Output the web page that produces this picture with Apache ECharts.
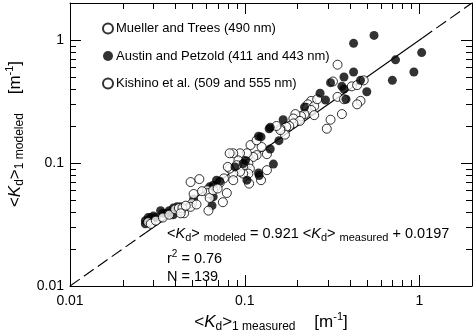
<!DOCTYPE html>
<html><head><meta charset="utf-8">
<script src="https://cdn.jsdelivr.net/npm/echarts@6/dist/echarts.min.js"></script>
<style>html,body{margin:0;padding:0;background:#fff}#c{width:474px;height:336px}</style>
</head><body><div id="c"></div><script>
const axisMin = 0.01, axisMax = 2;
const majorTicks = [0.01, 0.1, 1];
const minorTicks = [0.02,0.03,0.04,0.05,0.06,0.07,0.08,0.09,0.2,0.3,0.4,0.5,0.6,0.7,0.8,0.9];
const tickLabels = ['0.01', '0.1', '1'];
const legendNames = ['Mueller and Trees (490 nm)', 'Austin and Petzold (411 and 443 nm)', 'Kishino et al. (509 and 555 nm)'];

const muellerPts = [
 [0.34,0.63],[0.32,0.46],[0.41,0.42],[0.44,0.43],[0.48,0.47],[0.34,0.345],[0.37,0.33],[0.46,0.32],[0.44,0.30],[0.36,0.25],[0.31,0.225],[0.295,0.19],
 [0.24,0.32],[0.23,0.30],[0.25,0.29],[0.226,0.28],[0.24,0.27],[0.22,0.25],[0.25,0.245],[0.21,0.24],[0.195,0.25],[0.19,0.23],[0.207,0.22],[0.19,0.21],[0.18,0.20],[0.173,0.197],[0.16,0.19],[0.17,0.17],[0.16,0.185],
 [0.125,0.135],[0.108,0.14],[0.134,0.118],[0.117,0.116],[0.112,0.112],[0.103,0.12],[0.094,0.12],[0.086,0.12],[0.082,0.12],[0.105,0.099],[0.1,0.096],[0.107,0.09],[0.098,0.094],[0.105,0.082],[0.098,0.082],[0.094,0.085],[0.106,0.068],[0.124,0.0725],[0.134,0.0875],[0.092,0.105],[0.09,0.096],[0.086,0.082],[0.082,0.09],[0.08,0.093],[0.076,0.075],[0.072,0.069],[0.086,0.0725],[0.079,0.057],[0.075,0.048],[0.068,0.064],
 [0.117,0.153],[0.152,0.2],[0.26,0.33]
];
const austinPts = [
 [0.55,1.09],[0.42,0.94],[1.03,0.79],[0.73,0.69],[0.93,0.55],[0.70,0.47],[0.42,0.55],[0.37,0.50],[0.46,0.47],[0.50,0.38],
 [0.31,0.45],[0.36,0.42],[0.37,0.40],[0.27,0.37],[0.29,0.325],[0.38,0.33],[0.22,0.285],
 [0.166,0.225],[0.14,0.195],[0.138,0.19],[0.12,0.165],[0.124,0.163],[0.157,0.152],[0.14,0.13],[0.146,0.098],[0.12,0.083],[0.121,0.079],[0.103,0.0725],[0.098,0.099],[0.101,0.105],[0.088,0.093],
 [0.069,0.0725],[0.072,0.071],[0.063,0.064],[0.066,0.066],[0.065,0.045],[0.066,0.053],[0.051,0.051],
 [0.043,0.044],[0.041,0.044],[0.039,0.043],[0.037,0.041],[0.036,0.039],[0.039,0.038],[0.033,0.041],[0.034,0.039],[0.030,0.037],[0.031,0.036],[0.029,0.036],[0.028,0.036],[0.027,0.032],[0.027,0.034]
];
const kishinoPts = [
 [0.061,0.06],[0.062,0.057],[0.063,0.052],[0.062,0.041],[0.049,0.07],[0.055,0.074],[0.051,0.056],[0.05,0.047],[0.049,0.044],[0.045,0.039],[0.043,0.041],[0.066,0.06],[0.07,0.062],[0.057,0.059],[0.053,0.046],
 [0.028,0.033],[0.029,0.032],[0.031,0.034],[0.034,0.036],[0.037,0.038],[0.04,0.042],[0.042,0.043],[0.044,0.043],[0.043,0.039],[0.046,0.045]
];
const oneToOneLow = [[0.01,0.01],[0.027,0.027]];
const oneToOneMid = [[0.027,0.027],[1.04,1.04]];
const oneToOneHigh = [[1.04,1.04],[2,2]];

const FONT = '"Liberation Sans", Arial, Helvetica, sans-serif';
const MAJOR_LEN = 11, MINOR_LEN = 6;

function makeAxis(position, withLabel) {
  return {
    type: 'log', logBase: 10, min: axisMin, max: axisMax, position: position, gridIndex: 0,
    axisLine: { show: true, onZero: false, lineStyle: { color: '#000', width: 1 } },
    axisTick: { show: false },
    axisLabel: withLabel ? {
      show: true, customValues: majorTicks, color: '#000', fontSize: 14, fontFamily: FONT,
      margin: position === 'bottom' ? 8 : 6,
      formatter: function (v) { const i = majorTicks.findIndex(t => Math.abs(Math.log10(t) - Math.log10(v)) < 1e-6); return i >= 0 ? tickLabels[i] : ''; }
    } : { show: false },
    splitLine: { show: false }
  };
}

// Tick marks as 1px filled rects, all corners taken from the axes' own scale via api.coord.
function tickRenderer(len) {
  return function (params, api) {
    const p = api.coord([api.value(0), api.value(1)]);
    const lo = api.coord([axisMin, axisMin]);
    const hi = api.coord([axisMax, axisMax]);
    const px = Math.round(p[0]), py = Math.round(p[1]);
    const xL = Math.round(lo[0]), yB = Math.round(lo[1]), xR = Math.round(hi[0]), yT = Math.round(hi[1]);
    const f = { fill: '#000' };
    return {
      type: 'group',
      children: [
        { type: 'rect', shape: { x: px, y: yB - len, width: 1, height: len }, style: f },
        { type: 'rect', shape: { x: px, y: yT, width: 1, height: len }, style: f },
        { type: 'rect', shape: { x: xL, y: py, width: len, height: 1 }, style: f },
        { type: 'rect', shape: { x: xR - len, y: py, width: len, height: 1 }, style: f }
      ]
    };
  };
}

function richSet(base, sub, sup, lh) {
  return {
    t: { fontSize: base, fontFamily: FONT, lineHeight: lh, fill: '#000' },
    i: { fontSize: base, fontFamily: FONT, fontStyle: 'italic', lineHeight: lh, fill: '#000' },
    s: { fontSize: sub, fontFamily: FONT, lineHeight: sub, verticalAlign: 'bottom', fill: '#000' },
    p: { fontSize: sup, fontFamily: FONT, lineHeight: sup, verticalAlign: 'top', fill: '#000' }
  };
}

const chart = echarts.init(document.getElementById('c'), null, { renderer: 'canvas' });
const circleStyle = { color: '#fff', borderColor: '#000', borderWidth: 1 };
chart.setOption({
  animation: false,
  backgroundColor: '#fff',
  grid: { left: 70, right: 2, top: 3, bottom: 50, containLabel: false, outerBoundsMode: 'none' },
  xAxis: [ makeAxis('bottom', true), makeAxis('top', false) ],
  yAxis: [ makeAxis('left', true), makeAxis('right', false) ],
  legend: {
    orient: 'vertical', left: 102, top: 22, itemGap: 14.5, itemWidth: 10, itemHeight: 10, padding: 0,
    icon: 'circle',
    textStyle: { color: '#000', fontSize: 13, fontFamily: FONT, padding: [0, 0, 0, -2] },
    data: legendNames
  },
  series: [
    { type: 'custom', data: majorTicks.map(v => [v, v]), encode: { x: 0, y: 1 }, renderItem: tickRenderer(MAJOR_LEN), z: 6 },
    { type: 'custom', data: minorTicks.map(v => [v, v]), encode: { x: 0, y: 1 }, renderItem: tickRenderer(MINOR_LEN), z: 6 },
    { type: 'line', data: oneToOneLow, symbol: 'none', lineStyle: { color: '#000', width: 1.1, type: [12, 5] }, z: 1, silent: true },
    { type: 'line', data: oneToOneMid, symbol: 'none', lineStyle: { color: '#000', width: 1.1 }, z: 1, silent: true },
    { type: 'line', data: oneToOneHigh, symbol: 'none', lineStyle: { color: '#000', width: 1.1, type: [12, 5] }, z: 1, silent: true },
    { name: legendNames[0], type: 'scatter', data: muellerPts, symbol: 'circle', symbolSize: 9, itemStyle: circleStyle, z: 3 },
    { name: legendNames[1], type: 'scatter', data: austinPts, symbol: 'circle', symbolSize: 9, itemStyle: { color: '#000' }, z: 3 },
    { name: legendNames[2], type: 'scatter', data: kishinoPts, symbol: 'circle', symbolSize: 9, itemStyle: circleStyle, z: 3 }
  ],
  graphic: [
    { type: 'text', left: 167, top: 226,
      style: { text: '{t|<}{i|K}{s|d}{t|> }{s|modeled}{t| = 0.921 <}{i|K}{s|d}{t|> }{s|measured}{t| + 0.0197}', rich: richSet(14.5, 11, 10, 20) } },
    { type: 'text', left: 167, top: 249,
      style: { text: '{t|r}{p|2}{t| = 0.76}', rich: richSet(14.5, 11, 10, 20) } },
    { type: 'text', left: 167, top: 269, style: { text: 'N = 139', font: '14.5px ' + FONT, fill: '#000' } },
    { type: 'text', x: 271, y: 322,
      style: { text: '{t|<}{i|K}{s|d}{t|>}{s|1 measured}{t|    [m}{p|-1}{t|]}', align: 'center', verticalAlign: 'middle', rich: richSet(17, 12, 11, 22) } },
    { type: 'text', x: 15, y: 134, rotation: Math.PI / 2,
      style: { text: '{t|<}{i|K}{s|d}{t|>}{s|1 modeled}{t|    [m}{p|-1}{t|]}', align: 'center', verticalAlign: 'middle', rich: richSet(17, 12, 11, 22) } }
  ]
});
</script></body></html>
